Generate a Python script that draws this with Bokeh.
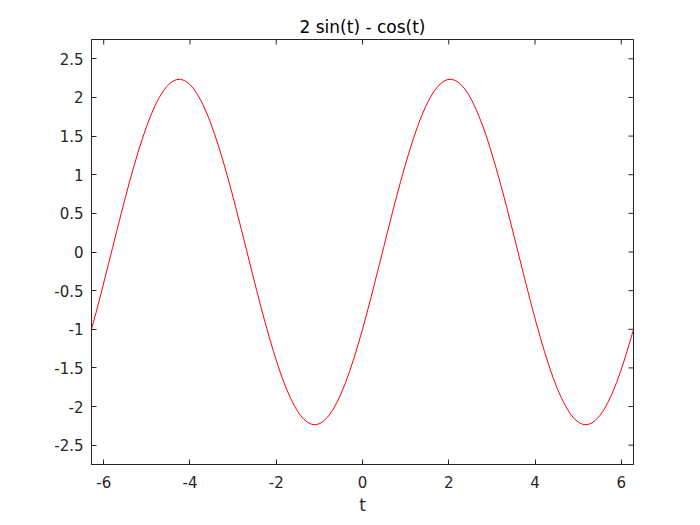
import math
from bokeh.plotting import figure
from bokeh.models import Range1d, LinearAxis, FixedTicker, Title
from bokeh.embed import file_html
from bokeh.resources import INLINE

# Sample positions t (step pi/32 over [-2pi, 2pi])
t_left = [-6.2832, -6.1850, -6.0868, -5.9887, -5.8905, -5.7923, -5.6941, -5.5960,
          -5.4978, -5.3996, -5.3014, -5.2033, -5.1051, -5.0069, -4.9087, -4.8106,
          -4.7124, -4.6142, -4.5160, -4.4179, -4.3197, -4.2215, -4.1233, -4.0252,
          -3.9270, -3.8288, -3.7306, -3.6325, -3.5343, -3.4361, -3.3379, -3.2398,
          -3.1416, -3.0434, -2.9452, -2.8471, -2.7489, -2.6507, -2.5525, -2.4544,
          -2.3562, -2.2580, -2.1598, -2.0617, -1.9635, -1.8653, -1.7671, -1.6690,
          -1.5708, -1.4726, -1.3744, -1.2763, -1.1781, -1.0799, -0.9817, -0.8836,
          -0.7854, -0.6872, -0.5890, -0.4909, -0.3927, -0.2945, -0.1963, -0.0982]
t_right = [0.0, 0.0982, 0.1963, 0.2945, 0.3927, 0.4909, 0.5890, 0.6872,
           0.7854, 0.8836, 0.9817, 1.0799, 1.1781, 1.2763, 1.3744, 1.4726,
           1.5708, 1.6690, 1.7671, 1.8653, 1.9635, 2.0617, 2.1598, 2.2580,
           2.3562, 2.4544, 2.5525, 2.6507, 2.7489, 2.8471, 2.9452, 3.0434,
           3.1416, 3.2398, 3.3379, 3.4361, 3.5343, 3.6325, 3.7306, 3.8288,
           3.9270, 4.0252, 4.1233, 4.2215, 4.3197, 4.4179, 4.5160, 4.6142,
           4.7124, 4.8106, 4.9087, 5.0069, 5.1051, 5.2033, 5.3014, 5.3996,
           5.4978, 5.5960, 5.6941, 5.7923, 5.8905, 5.9887, 6.0868, 6.1850, 6.2832]

# Curve values
y_left = [-1.000, -0.799, -0.591, -0.376, -0.159, 0.061, 0.280, 0.496,
          0.707, 0.912, 1.107, 1.292, 1.465, 1.624, 1.766, 1.892,
          2.000, 2.088, 2.157, 2.204, 2.230, 2.235, 2.219, 2.180,
          2.121, 2.042, 1.943, 1.825, 1.689, 1.538, 1.371, 1.191,
          1.000, 0.799, 0.591, 0.376, 0.159, -0.061, -0.280, -0.496,
          -0.707, -0.912, -1.107, -1.292, -1.465, -1.624, -1.766, -1.892,
          -2.000, -2.088, -2.157, -2.204, -2.230, -2.235, -2.219, -2.180,
          -2.121, -2.042, -1.943, -1.825, -1.689, -1.538, -1.371, -1.191]
y_right = [-1.000, -0.799, -0.591, -0.376, -0.159, 0.061, 0.280, 0.496,
           0.707, 0.912, 1.107, 1.292, 1.465, 1.624, 1.766, 1.892,
           2.000, 2.088, 2.157, 2.204, 2.230, 2.235, 2.219, 2.180,
           2.121, 2.042, 1.943, 1.825, 1.689, 1.538, 1.371, 1.191,
           1.000, 0.799, 0.591, 0.376, 0.159, -0.061, -0.280, -0.496,
           -0.707, -0.912, -1.107, -1.292, -1.465, -1.624, -1.766, -1.892,
           -2.000, -2.088, -2.157, -2.204, -2.230, -2.235, -2.219, -2.180,
           -2.121, -2.042, -1.943, -1.825, -1.689, -1.538, -1.371, -1.191, -1.000]

x_ticks = [-6, -4, -2, 0, 2, 4, 6]
x_tick_labels = ["-6", "-4", "-2", "0", "2", "4", "6"]
y_ticks = [-2.5, -2, -1.5, -1, -0.5, 0, 0.5, 1, 1.5, 2, 2.5]
y_tick_labels = ["-2.5", "-2", "-1.5", "-1", "-0.5", "0", "0.5", "1", "1.5", "2", "2.5"]
x_lim = [-6.2832, 6.2832]
y_lim = [-2.75, 2.75]
title_text = "2 sin(t) - cos(t)"
x_label = "t"

t = t_left + t_right
y = y_left + y_right

FONT = "DejaVu Sans"
AX = "#262626"

p = figure(width=684, height=517, output_backend="svg", toolbar_location=None,
           x_range=Range1d(*x_lim), y_range=Range1d(*y_lim),
           min_border_left=91, min_border_right=51, min_border_top=39, min_border_bottom=51,
           x_axis_location=None, y_axis_location=None)
p.background_fill_color = "white"
p.border_fill_color = "white"
p.outline_line_color = AX
p.outline_line_width = 1
p.grid.visible = False

p.add_layout(Title(text=title_text, align="center", text_font=FONT, text_font_size="17px",
                   text_font_style="normal", text_color="black", standoff=5), "above")

def style(ax):
    ax.axis_line_color = AX
    ax.major_tick_line_color = AX
    ax.major_tick_in = 5
    ax.major_tick_out = 0
    ax.minor_tick_line_color = None
    ax.major_label_text_font = FONT
    ax.major_label_text_font_size = "15px"
    ax.major_label_text_color = AX

bx = LinearAxis(ticker=FixedTicker(ticks=x_ticks), axis_label=x_label,
                major_label_overrides=dict(zip(x_ticks, x_tick_labels)))
style(bx)
bx.major_label_standoff = 11
bx.axis_label_text_font = FONT
bx.axis_label_text_font_size = "17px"
bx.axis_label_text_font_style = "normal"
bx.axis_label_text_color = AX
bx.axis_label_standoff = 4
p.add_layout(bx, "below")

ly = LinearAxis(ticker=FixedTicker(ticks=y_ticks),
                major_label_overrides=dict(zip(y_ticks, y_tick_labels)))
style(ly)
ly.major_label_standoff = 8
p.add_layout(ly, "left")

# inward ticks on the top and right edges of the box
p.scatter(x_ticks, [y_lim[1]] * len(x_ticks), marker="dash", size=10, angle=math.pi / 2,
          line_color=AX, line_width=1)
p.scatter([x_lim[1]] * len(y_ticks), y_ticks, marker="dash", size=10,
          line_color=AX, line_width=1)

p.line(t, y, line_color="red", line_width=1)

open("out.html", "w").write(file_html(p, INLINE))
